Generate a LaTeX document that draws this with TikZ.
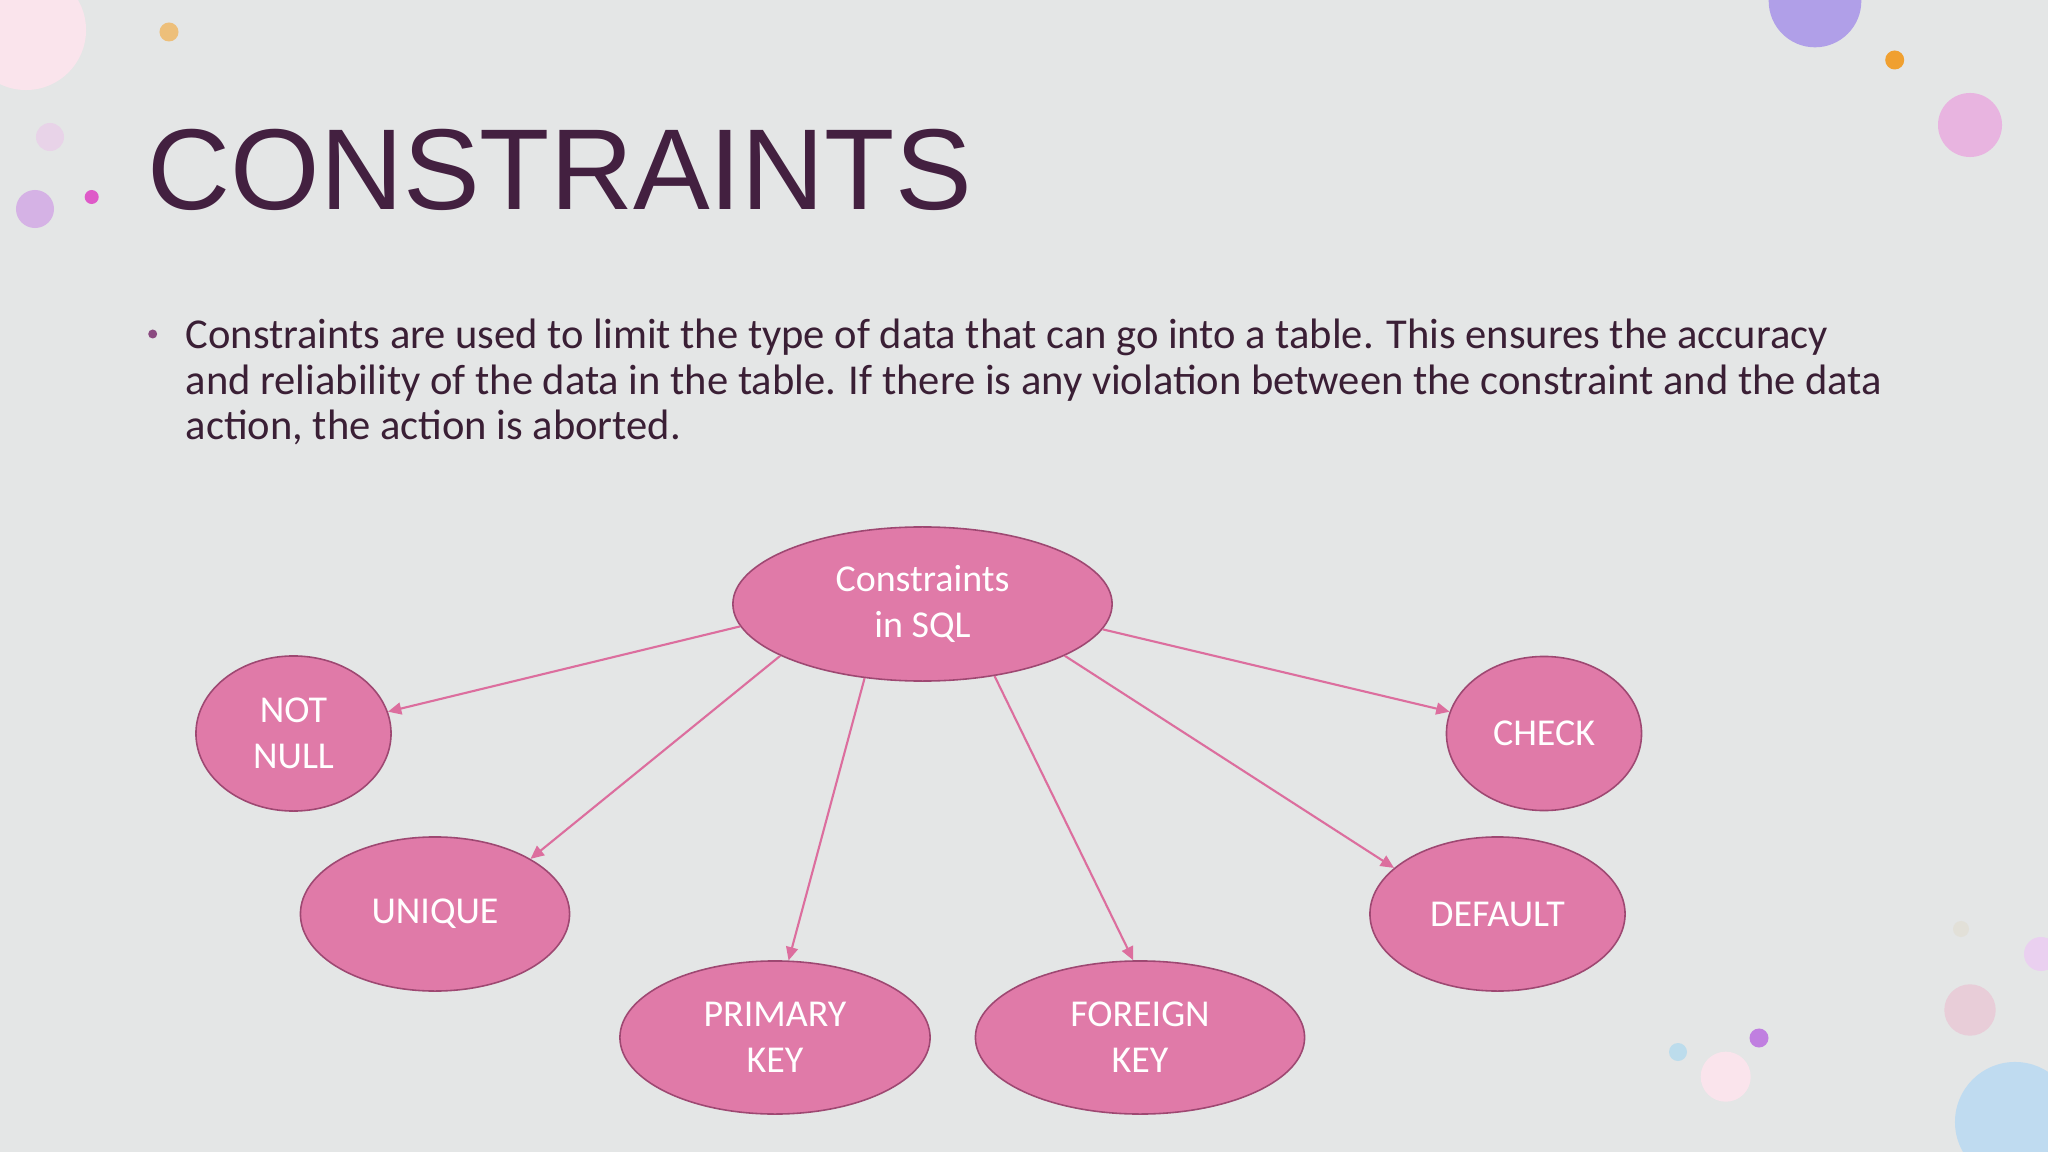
\documentclass[tikz,border=0pt]{standalone}
\usepackage{fontspec}
\setmainfont{Carlito}
\newfontfamily\titlefont{Liberation Sans}
\usetikzlibrary{shapes.geometric,arrows.meta}
\definecolor{bgc}{HTML}{E4E6E6}
\definecolor{titlec}{HTML}{432040}
\definecolor{bodyc}{HTML}{3A1F35}
\definecolor{bulletc}{HTML}{8A4A80}
\definecolor{ellfill}{HTML}{E07AA8}
\definecolor{elldraw}{HTML}{9E4872}
\definecolor{arrowc}{HTML}{DC6E9E}
\definecolor{palepink}{HTML}{FAE4EC}
\definecolor{paleorange}{HTML}{EDBF7A}
\definecolor{palepurple}{HTML}{E8D3E8}
\definecolor{lavender}{HTML}{D5B2E5}
\definecolor{magentadot}{HTML}{DE5AC8}
\definecolor{violet}{HTML}{B09FE8}
\definecolor{orangedot}{HTML}{F0A030}
\definecolor{pinkdot}{HTML}{E8B4E0}
\definecolor{beigedot}{HTML}{E2E0D8}
\definecolor{lilac}{HTML}{EAD0F0}
\definecolor{mutedpink}{HTML}{E8CDD8}
\definecolor{paleblue}{HTML}{BFDBF0}
\definecolor{purpledot}{HTML}{C07FE0}
\definecolor{bluedot}{HTML}{BCDCEC}
\tikzset{
  bubble/.style={ellipse, fill=ellfill, draw=elldraw, line width=0.45pt, inner sep=0pt,
    text=white, align=center, font=\fontsize{10.8pt}{13pt}\selectfont},
  link/.style={draw=arrowc, line width=0.6pt, -{Triangle[length=3.8pt,width=3.4pt]}},
}
\begin{document}
\begin{tikzpicture}[x=0.01cm,y=-0.01cm]
\useasboundingbox[fill=bgc] (0,0) rectangle (2048,1152);
% decorations
\fill[palepink] (26,30) circle[radius=0.6cm];
\fill[paleorange] (169,32) circle[radius=0.095cm];
\fill[palepurple] (50,137) circle[radius=0.14cm];
\fill[lavender] (35,209) circle[radius=0.19cm];
\fill[magentadot] (91.7,197) circle[radius=0.07cm];
\fill[violet] (1815,1) circle[radius=0.463cm];
\fill[orangedot] (1894.7,60) circle[radius=0.095cm];
\fill[pinkdot] (1970,125) circle[radius=0.32cm];
\fill[beigedot] (1961,929) circle[radius=0.08cm];
\fill[lilac] (2041,954) circle[radius=0.17cm];
\fill[mutedpink] (1970,1010) circle[radius=0.257cm];
\fill[paleblue] (2015,1122) circle[radius=0.6cm];
\fill[purpledot] (1759,1038) circle[radius=0.095cm];
\fill[bluedot] (1678,1052) circle[radius=0.09cm];
\fill[palepink] (1725.7,1076.7) circle[radius=0.25cm];
% title and text
\node[anchor=base west, inner sep=0pt, text=titlec, font=\titlefont\fontsize{32.7pt}{40pt}\selectfont] (title) at (147,209.3) {CONSTRAINTS};
\fill[bulletc] (152.7,334) circle[radius=0.045cm];
\node[anchor=base west, inner sep=0pt, text=bodyc, align=left, font=\fontsize{12.1pt}{13pt}\selectfont] (body) at (185,440)
{Constraints are used to limit the type of data that can go into a table. This ensures the accuracy\\
and reliability of the data in the table. If there is any violation between the constraint and the data\\
action, the action is aborted.};
% nodes
\node[bubble, minimum width=3.79cm, minimum height=1.54cm] (c) at (922.5,604) {Constraints\\in SQL};
\node[bubble, minimum width=1.95cm, minimum height=1.55cm] (nn) at (293.5,733.5) {NOT\\NULL};
\node[bubble, minimum width=2.69cm, minimum height=1.54cm] (u) at (435,914) {UNIQUE};
\node[bubble, minimum width=3.10cm, minimum height=1.53cm] (pk) at (775,1037.5) {PRIMARY\\KEY};
\node[bubble, minimum width=3.29cm, minimum height=1.53cm] (fk) at (1140,1037.5) {FOREIGN\\KEY};
\node[bubble, minimum width=1.95cm, minimum height=1.54cm] (ch) at (1544,733.5) {CHECK};
\node[bubble, minimum width=2.55cm, minimum height=1.54cm] (d) at (1497.5,914) {DEFAULT};
% connectors
\draw[link] (c.187.5) -- (nn.13.5);
\draw[link] (c.200.7) -- (u.30.3);
\draw[link] (c.232.6) -- (pk.80.8);
\draw[link] (c.315.6) -- (fk.95.9);
\draw[link] (c.-8.9) -- (ch.167.8);
\draw[link] (c.-20.4) -- (d.156.7);
\end{tikzpicture}
\end{document}
